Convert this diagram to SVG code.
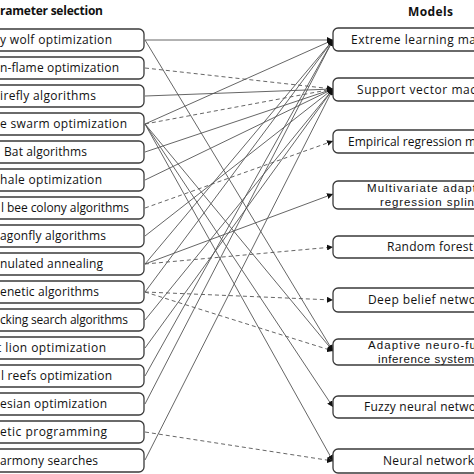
<svg xmlns="http://www.w3.org/2000/svg" width="474" height="474" viewBox="0 0 474 474">
<style>
.box{fill:#fff;stroke:#3a3a3a;stroke-width:1.3}
.t{font-family:"Open Sans","Liberation Sans",sans-serif;font-size:12px;fill:#111}
.t2{font-family:"Liberation Sans","Open Sans",sans-serif;font-size:11.5px;fill:#111}
.h{font-family:"Open Sans","Liberation Sans",sans-serif;font-size:12px;font-weight:bold;fill:#111}
.c{fill:none;stroke:#555;stroke-width:0.9}
.d{fill:none;stroke:#555;stroke-width:0.9;stroke-dasharray:4 3}
</style>
<defs>
<marker id="ah" markerUnits="userSpaceOnUse" markerWidth="7" markerHeight="6" refX="6" refY="3" orient="auto">
<path d="M0,0 L6,3 L0,6 z" fill="#111"/>
</marker>
</defs>
<rect width="474" height="474" fill="#fff"/>
<text class="h" x="0" y="15" textLength="103" lengthAdjust="spacing">rameter selection</text>
<text class="h" x="408" y="16" textLength="45" lengthAdjust="spacing">Models</text>

<g id="connectors">
<line class="c" x1="145" y1="40" x2="333" y2="40" marker-end="url(#ah)"/>
<line class="c" x1="145" y1="40" x2="333" y2="351" marker-end="url(#ah)"/>
<line class="d" x1="145" y1="68" x2="333" y2="89" marker-end="url(#ah)"/>
<line class="c" x1="145" y1="96" x2="333" y2="89" marker-end="url(#ah)"/>
<line class="c" x1="145" y1="124" x2="333" y2="40" marker-end="url(#ah)"/>
<line class="d" x1="145" y1="124" x2="333" y2="89" marker-end="url(#ah)"/>
<line class="c" x1="145" y1="124" x2="333" y2="351" marker-end="url(#ah)"/>
<line class="c" x1="145" y1="124" x2="333" y2="407" marker-end="url(#ah)"/>
<line class="c" x1="145" y1="124" x2="333" y2="461" marker-end="url(#ah)"/>
<line class="c" x1="145" y1="152" x2="333" y2="89" marker-end="url(#ah)"/>
<line class="c" x1="145" y1="180" x2="333" y2="89" marker-end="url(#ah)"/>
<line class="d" x1="145" y1="208" x2="333" y2="141" marker-end="url(#ah)"/>
<line class="c" x1="145" y1="236" x2="333" y2="89" marker-end="url(#ah)"/>
<line class="c" x1="145" y1="264" x2="333" y2="40" marker-end="url(#ah)"/>
<line class="c" x1="145" y1="264" x2="333" y2="194" marker-end="url(#ah)"/>
<line class="d" x1="145" y1="264" x2="333" y2="247" marker-end="url(#ah)"/>
<line class="d" x1="145" y1="292" x2="333" y2="300" marker-end="url(#ah)"/>
<line class="d" x1="145" y1="292" x2="333" y2="351" marker-end="url(#ah)"/>
<line class="c" x1="145" y1="292" x2="333" y2="40" marker-end="url(#ah)"/>
<line class="c" x1="145" y1="320" x2="333" y2="89" marker-end="url(#ah)"/>
<line class="c" x1="145" y1="348" x2="333" y2="89" marker-end="url(#ah)"/>
<line class="c" x1="145" y1="376" x2="333" y2="40" marker-end="url(#ah)"/>
<line class="c" x1="145" y1="404" x2="333" y2="40" marker-end="url(#ah)"/>
<line class="d" x1="145" y1="432" x2="333" y2="461" marker-end="url(#ah)"/>
<line class="c" x1="145" y1="460" x2="333" y2="89" marker-end="url(#ah)"/>
</g>

<g id="p1"><rect class="box" x="-20" y="29" width="164" height="22" rx="5"/><text class="t" x="0" y="44" textLength="112" lengthAdjust="spacing">y wolf optimization</text></g>
<g id="p2"><rect class="box" x="-20" y="57" width="164" height="22" rx="5"/><text class="t" x="0" y="72" textLength="119" lengthAdjust="spacing">n-flame optimization</text></g>
<g id="p3"><rect class="box" x="-20" y="85" width="164" height="22" rx="5"/><text class="t" x="0" y="100" textLength="96" lengthAdjust="spacing">irefly algorithms</text></g>
<g id="p4"><rect class="box" x="-20" y="113" width="164" height="22" rx="5"/><text class="t" x="0" y="128" textLength="127" lengthAdjust="spacing">e swarm optimization</text></g>
<g id="p5"><rect class="box" x="-20" y="141" width="164" height="22" rx="5"/><text class="t" x="4" y="156" textLength="83" lengthAdjust="spacing">Bat algorithms</text></g>
<g id="p6"><rect class="box" x="-20" y="169" width="164" height="22" rx="5"/><text class="t" x="0" y="184" textLength="102" lengthAdjust="spacing">hale optimization</text></g>
<g id="p7"><rect class="box" x="-20" y="197" width="164" height="22" rx="5"/><text class="t" x="1" y="212" textLength="128" lengthAdjust="spacing">l bee colony algorithms</text></g>
<g id="p8"><rect class="box" x="-20" y="225" width="164" height="22" rx="5"/><text class="t" x="0" y="240" textLength="106" lengthAdjust="spacing">agonfly algorithms</text></g>
<g id="p9"><rect class="box" x="-20" y="253" width="164" height="22" rx="5"/><text class="t" x="0" y="268" textLength="103" lengthAdjust="spacing">nulated annealing</text></g>
<g id="p10"><rect class="box" x="-20" y="281" width="164" height="22" rx="5"/><text class="t" x="0" y="296" textLength="99" lengthAdjust="spacing">enetic algorithms</text></g>
<g id="p11"><rect class="box" x="-20" y="309" width="164" height="22" rx="5"/><text class="t" x="0" y="324" textLength="128" lengthAdjust="spacing">cking search algorithms</text></g>
<g id="p12"><rect class="box" x="-20" y="337" width="164" height="22" rx="5"/><text class="t" x="-3" y="352" textLength="109" lengthAdjust="spacing">t lion optimization</text></g>
<g id="p13"><rect class="box" x="-20" y="365" width="164" height="22" rx="5"/><text class="t" x="1" y="380" textLength="111" lengthAdjust="spacing">l reefs optimization</text></g>
<g id="p14"><rect class="box" x="-20" y="393" width="164" height="22" rx="5"/><text class="t" x="0" y="408" textLength="107" lengthAdjust="spacing">esian optimization</text></g>
<g id="p15"><rect class="box" x="-20" y="421" width="164" height="22" rx="5"/><text class="t" x="0" y="436" textLength="107" lengthAdjust="spacing">etic programming</text></g>
<g id="p16"><rect class="box" x="-20" y="449" width="164" height="23" rx="5"/><text class="t" x="0" y="465" textLength="98" lengthAdjust="spacing">armony searches</text></g>

<g id="m1"><rect class="box" x="333" y="28" width="170" height="23" rx="5"/><text class="t" x="351" y="44" textLength="125" lengthAdjust="spacing">Extreme learning ma</text></g>
<g id="m2"><rect class="box" x="333" y="78" width="170" height="23" rx="5"/><text class="t" x="357" y="94" textLength="119" lengthAdjust="spacing">Support vector mac</text></g>
<g id="m3"><rect class="box" x="333" y="130" width="170" height="23" rx="5"/><text class="t" x="348" y="146" textLength="128" lengthAdjust="spacing">Empirical regression m</text></g>
<g id="m4"><rect class="box" x="333" y="181" width="170" height="28" rx="5"/><text class="t2" x="367" y="192" textLength="109" lengthAdjust="spacing">Multivariate adapt</text><text class="t2" x="380" y="206" textLength="94" lengthAdjust="spacing">regression splin</text></g>
<g id="m5"><rect class="box" x="333" y="236" width="170" height="22" rx="5"/><text class="t" x="387" y="251" textLength="86" lengthAdjust="spacing">Random forest</text></g>
<g id="m6"><rect class="box" x="333" y="288" width="170" height="24" rx="5"/><text class="t" x="368" y="304" textLength="108" lengthAdjust="spacing">Deep belief netwo</text></g>
<g id="m7"><rect class="box" x="333" y="339" width="170" height="26" rx="5"/><text class="t2" x="368" y="349" textLength="108" lengthAdjust="spacing">Adaptive neuro-fu</text><text class="t2" x="378" y="363" textLength="96" lengthAdjust="spacing">inference system</text></g>
<g id="m8"><rect class="box" x="333" y="396" width="170" height="22" rx="5"/><text class="t" x="364" y="411" textLength="112" lengthAdjust="spacing">Fuzzy neural netwo</text></g>
<g id="m9"><rect class="box" x="333" y="449" width="170" height="24" rx="5"/><text class="t" x="383" y="465" textLength="91" lengthAdjust="spacing">Neural network</text></g>
</svg>
